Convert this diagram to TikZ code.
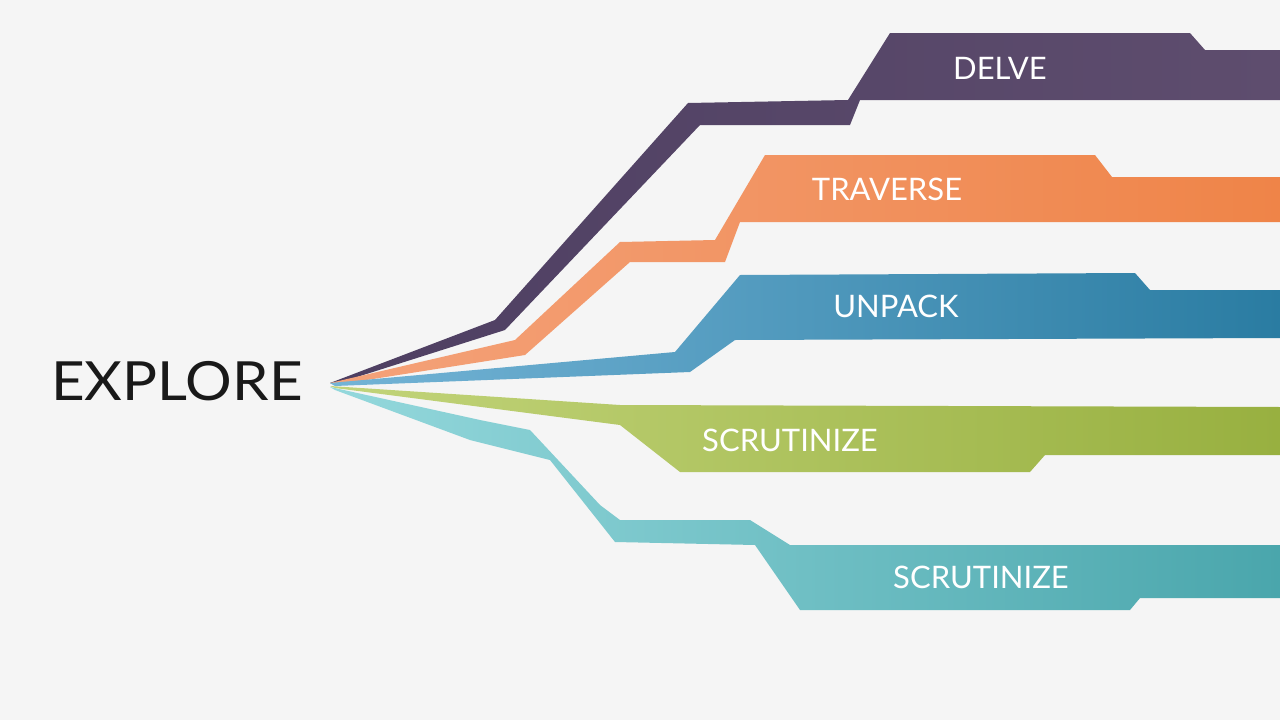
\documentclass[tikz,border=0pt]{standalone}
\usepackage{fontspec}
\setmainfont{Lato}
\definecolor{pA}{HTML}{4E3F62}\definecolor{pB}{HTML}{5E4D6E}
\definecolor{oA}{HTML}{F4A27A}\definecolor{oB}{HTML}{EF8448}
\definecolor{bA}{HTML}{74B4D6}\definecolor{bB}{HTML}{2A7CA2}
\definecolor{gA}{HTML}{C2D47A}\definecolor{gB}{HTML}{98B040}
\definecolor{tA}{HTML}{94D8DC}\definecolor{tB}{HTML}{4AA6AC}
\begin{document}
\begin{tikzpicture}[x=1pt,y=-1pt,
 lbl/.style={text=white,font=\fontsize{31}{31}\selectfont}]
\fill[white!96!black] (0,0) rectangle (1280,720);
\useasboundingbox (0,0) rectangle (1280,720);
\shade[left color=pA,right color=pB]
 (330,383)--(495,320)--(688,103)--(848,100)--(890,33)--(1190,33)--(1205,50)--(1280,50)
 --(1280,100)--(860,100)--(850,125)--(700,125)--(505,330)--(335,384)--cycle;
\shade[left color=oA,right color=oB]
 (330,383)--(515,340)--(620,242)--(715,240)--(765,155)--(1095,155)--(1112,177)--(1280,177)
 --(1280,222)--(740,222)--(725,262)--(630,262)--(525,355)--(335,385)--cycle;
\shade[left color=bA,right color=bB]
 (330,383)--(675,352)--(740,275)--(1135,273)--(1150,290)--(1280,290)
 --(1280,338)--(735,340)--(690,372)--(335,386)--cycle;
\shade[left color=gA,right color=gB]
 (330,386)--(620,405)--(1280,407)--(1280,455)--(1045,455)--(1030,472)--(680,472)--(620,425)--(335,388)--cycle;
\shade[left color=tA,right color=tB]
 (330,387)--(480,420)--(530,430)--(600,505)--(620,520)--(750,520)--(790,545)--(1280,545)
 --(1280,598)--(1140,598)--(1130,610)--(800,610)--(755,545)--(615,542)--(550,460)--(470,440)--(335,390)--cycle;
\node[font=\fontsize{54}{54}\selectfont,text=black!90,xscale=1.08] (ex) at (177,381) {EXPLORE};
\node[lbl] (d) at (1000,68) {DELVE};
\node[lbl] (t) at (887,189) {TRAVERSE};
\node[lbl] (u) at (896,306) {UNPACK};
\node[lbl] (s1) at (790,440) {SCRUTINIZE};
\node[lbl] (s2) at (981,577) {SCRUTINIZE};
\end{tikzpicture}
\end{document}
